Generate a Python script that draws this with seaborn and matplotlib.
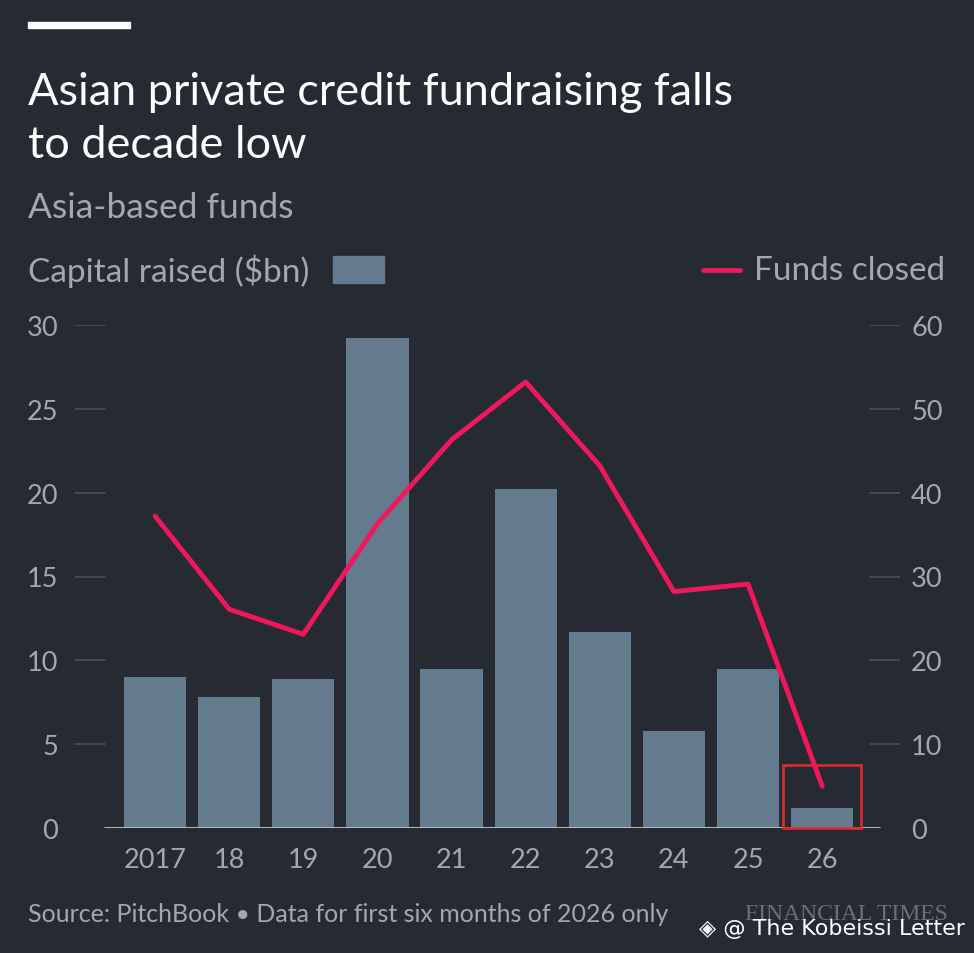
import matplotlib
matplotlib.use("Agg")
import matplotlib.pyplot as plt
import seaborn as sns
import pandas as pd
from matplotlib.patches import Rectangle

years = ["2017", "18", "19", "20", "21", "22", "23", "24", "25", "26"]
capital = [9.0, 7.8, 8.9, 29.2, 9.5, 20.2, 11.7, 5.8, 9.5, 1.2]
funds = [37.2, 26.1, 23.1, 36.3, 46.3, 53.2, 43.2, 28.2, 29.1, 5.0]
left_ticks = [0, 5, 10, 15, 20, 25, 30]
right_ticks = [0, 10, 20, 30, 40, 50, 60]

BG = "#262a33"
BAR = "#647a8f"
LINE = "#f0175c"
GREY = "#a3a8b0"
TICKC = "#4c525c"

sns.set_style("dark")
plt.rcParams['font.family'] = ['Lato', 'DejaVu Sans']

df = pd.DataFrame({"year": years, "capital": capital, "funds": funds})

fig = plt.figure(figsize=(9.74, 9.54), dpi=100, facecolor=BG)
ax = fig.add_axes([75 / 974, 1 - 829 / 954, 825 / 974, 503 / 954])
ax.set_facecolor(BG)
sns.barplot(data=df, x="year", y="capital", color=BAR, width=0.84,
            saturation=1, edgecolor="none", linewidth=0, ax=ax, zorder=2)
ax.set_xlim(-1.08, 10.05)
ax.set_ylim(0, 30)
ax.set_xlabel("")
ax.set_ylabel("")
for s in ax.spines.values():
    s.set_visible(False)
ax.grid(False)
ax.set_yticks(left_ticks)
ax.tick_params(axis="y", length=0, pad=12, labelsize=19.5, labelcolor=GREY)
ax.tick_params(axis="x", length=0, pad=14, labelsize=19.5, labelcolor=GREY)
for t in left_ticks[1:]:
    ax.axhline(t, xmin=0, xmax=0.036, color=TICKC, lw=1.2)
    ax.axhline(t, xmin=0.964, xmax=1, color=TICKC, lw=1.2)
ax.axhline(0, xmin=0.036, xmax=0.976, color="#c0c4ca", lw=1.3, zorder=3)

ax2 = ax.twinx()
ax2.set_ylim(0, 60)
ax2.set_yticks(right_ticks)
ax2.tick_params(axis="y", length=0, pad=8, labelsize=19.5, labelcolor=GREY)
for s in ax2.spines.values():
    s.set_visible(False)
ax2.grid(False)
sns.lineplot(x=list(range(len(years))), y=funds, color=LINE, lw=3.5, ax=ax2, zorder=4)
ax2.set_xlim(-1.08, 10.05)

# highlight box on last year
ax.add_patch(Rectangle((8.47, 0.02), 1.06, 3.75, fill=False, edgecolor="#d62b2b",
                       lw=2, zorder=5, clip_on=False))

# header
fig.patches.append(Rectangle((28 / 974, 1 - 29 / 954), 102 / 974, 6 / 954,
                             transform=fig.transFigure, color="white"))
fig.text(28 / 974, 1 - 119 / 954, "Asian private credit fundraising falls\nto decade low",
         color="white", fontsize=32.5, va="center", linespacing=1.38)
fig.text(28 / 974, 1 - 208 / 954, "Asia-based funds", color=GREY, fontsize=25.5, va="center")
fig.text(28 / 974, 1 - 271 / 954, "Capital raised ($bn)", color=GREY, fontsize=24, va="center")
fig.patches.append(Rectangle((333 / 974, 1 - 284 / 954), 51 / 974, 27 / 954,
                             transform=fig.transFigure, color=BAR))
fig.lines.append(plt.Line2D([703 / 974, 740 / 974], [1 - 271 / 954] * 2,
                            transform=fig.transFigure, color=LINE, lw=3.5))
fig.text(945 / 974, 1 - 271 / 954, "Funds closed", color=GREY, fontsize=24,
         va="center", ha="right")

fig.text(28 / 974, 1 - 915 / 954, "Source: PitchBook \u2022 Data for first six months of 2026 only",
         color=GREY, fontsize=18, va="center")
fig.text(948 / 974, 1 - 915 / 954, "FINANCIAL TIMES", color="#6a6e75", fontsize=17,
         va="center", ha="right", family=["Liberation Serif", "DejaVu Serif"])
fig.text(965 / 974, 1 - 929 / 954, "\u25c8 @ The Kobeissi Letter", color="white",
         fontsize=16, va="center", ha="right", family=["DejaVu Sans"])

fig.savefig("out.png", dpi=100, facecolor=BG)
